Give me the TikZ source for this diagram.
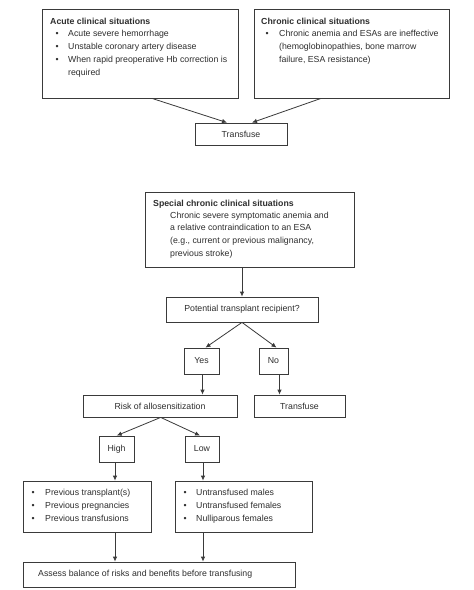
\documentclass[tikz,border=0pt]{standalone}
\usepackage{fontspec}
\setmainfont{Liberation Sans}
\usetikzlibrary{arrows.meta,calc}
\definecolor{ln}{HTML}{3A3A3A}
\definecolor{tx}{HTML}{2E2E2E}
\newcommand{\bl}[1]{\makebox[#1][l]{\textbullet}}
\newcommand{\fs}{\rule{0pt}{9pt}}
\begin{document}
\begin{tikzpicture}[x=1pt,y=-1pt,
 box/.style={draw=ln, line width=0.8pt, rectangle, inner sep=0pt, text=tx, font=\fontsize{8.75}{12.7}\selectfont},
 txt/.style={inner sep=0pt, text=tx, align=left, font=\fontsize{8.75}{12.7}\selectfont, anchor=north west},
 arr/.style={draw=ln, line width=0.8pt, -{Latex[length=5pt,width=4.5pt]}}]
\useasboundingbox[fill=white] (0,0) rectangle (474,590);
% top part
\node[box, minimum width=196pt, minimum height=89pt] (acute) at (140,53.5) {};
\node[txt] (acutet) at (50,15) {\fs\textbf{Acute clinical situations}\\
\hspace*{5.5pt}\bl{12.5pt}Acute severe hemorrhage\\
\hspace*{5.5pt}\bl{12.5pt}Unstable coronary artery disease\\
\hspace*{5.5pt}\bl{12.5pt}When rapid preoperative Hb correction is\\
\hspace*{18pt}required};
\node[box, minimum width=195pt, minimum height=89pt] (chronic) at (351.5,53.5) {};
\node[txt] (chronict) at (261,15) {\fs\textbf{Chronic clinical situations}\\
\hspace*{4.5pt}\bl{13.5pt}Chronic anemia and ESAs are ineffective\\
\hspace*{18pt}(hemoglobinopathies, bone marrow\\
\hspace*{18pt}failure, ESA resistance)};
\node[box, minimum width=92pt, minimum height=22pt] (trans1) at (241,134) {Transfuse};
\draw[arr] ([xshift=12pt]acute.south) -- ([xshift=-14pt]trans1.north);
\draw[arr] ([xshift=-30.5pt]chronic.south) -- ([xshift=11pt]trans1.north);
% special
\node[box, minimum width=209pt, minimum height=75pt] (special) at (249.5,229.5) {};
\node[txt] (specialt) at (153,197.5) {\fs\textbf{Special chronic clinical situations}\\[-1.4pt]
\hspace*{17pt}Chronic severe symptomatic anemia and\\
\hspace*{17pt}a relative contraindication to an ESA\\
\hspace*{17pt}(e.g., current or previous malignancy,\\
\hspace*{17pt}previous stroke)};
\node[box, minimum width=152pt, minimum height=25pt] (pot) at (242,309.5) {Potential transplant recipient?};
\draw[arr] (pot.north |- special.south) -- (pot.north);
\node[box, minimum width=35pt, minimum height=26pt] (yes) at (201.5,361) {Yes};
\node[box, minimum width=29pt, minimum height=26pt] (no) at (273.5,361) {No};
\draw[arr] (pot.south) -- ([xshift=4pt]yes.north);
\draw[arr] (pot.south) -- ([xshift=3pt]no.north);
\node[box, minimum width=154pt, minimum height=22pt] (risk) at (160,406) {Risk of allosensitization};
\node[box, minimum width=91pt, minimum height=22pt] (trans2) at (299.5,406) {Transfuse};
\draw[arr] ([xshift=1pt]yes.south) -- ([xshift=1pt]yes.south |- risk.north);
\draw[arr] ([xshift=6pt]no.south) -- ([xshift=6pt]no.south |- trans2.north);
\node[box, minimum width=35pt, minimum height=26pt] (high) at (116.5,449) {High};
\node[box, minimum width=34pt, minimum height=26pt] (low) at (202,449) {Low};
\draw[arr] ([xshift=0.7pt]risk.south) -- ([xshift=0.2pt]high.north);
\draw[arr] ([xshift=0.7pt]risk.south) -- ([xshift=-2pt]low.north);
\node[box, minimum width=128pt, minimum height=51pt] (highl) at (87,506.5) {};
\node[txt] (highlt) at (31.5,486.5) {\fs\bl{13.5pt}Previous transplant(s)\\[0.3pt]
\bl{13.5pt}Previous pregnancies\\[0.3pt]
\bl{13.5pt}Previous transfusions};
\node[box, minimum width=137pt, minimum height=51pt] (lowl) at (243.5,506.5) {};
\node[txt] (lowlt) at (183.5,486.5) {\fs\bl{12.5pt}Untransfused males\\[0.3pt]
\bl{12.5pt}Untransfused females\\[0.3pt]
\bl{12.5pt}Nulliparous females};
\draw[arr] ([xshift=-1.5pt]high.south) -- ([xshift=-1.5pt]high.south |- highl.north);
\draw[arr] ([xshift=1pt]low.south) -- ([xshift=1pt]low.south |- lowl.north);
\node[box, minimum width=272pt, minimum height=25pt] (assess) at (159,574.5) {};
\node[txt, anchor=base west] (assesst) at (38,576.5) {Assess balance of risks and benefits before transfusing};
\draw[arr] ([xshift=-1.5pt]highl.south -| high.south) -- ([xshift=-1.5pt]assess.north -| high.south);
\draw[arr] ([xshift=1pt]lowl.south -| low.south) -- ([xshift=1pt]assess.north -| low.south);
\end{tikzpicture}
\end{document}
